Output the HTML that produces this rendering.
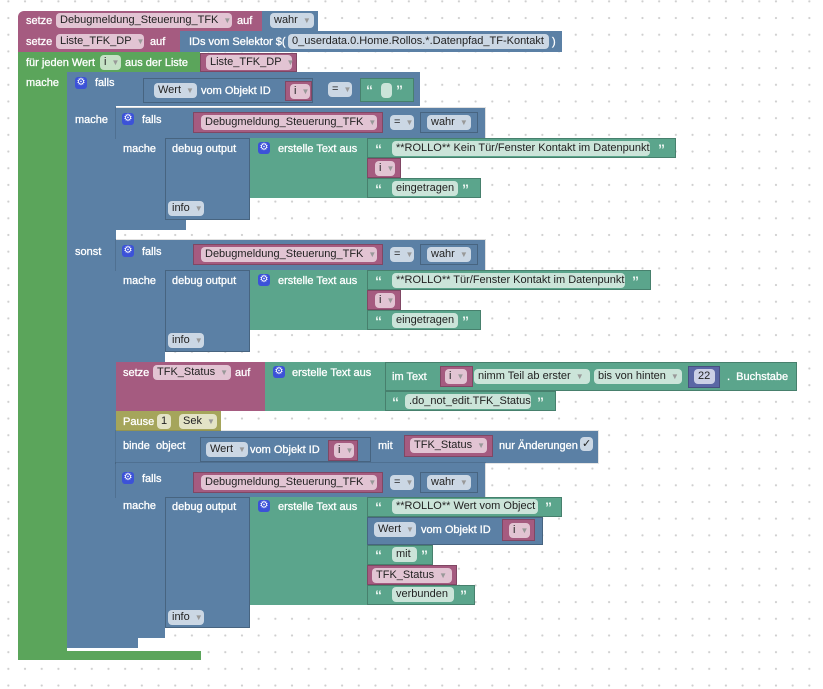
<!DOCTYPE html>
<html><head><meta charset="utf-8"><style>
body{margin:0;width:823px;height:689px;position:relative;overflow:hidden;background-color:#fff;background-image:radial-gradient(circle,#cfcfcf 0.9px,transparent 1.3px);background-size:16.7px 16.7px;background-position:0 -7px;font-family:"Liberation Sans",Arial,sans-serif}
.b{position:absolute}
.p{background:#a55b80}.u{background:#5b80a5}.g{background:#5ba55b}.t{background:#5ba58c}.o{background:#a5a55b}.m{background:#5b67a5}
.bd{box-shadow:inset 0 0 0 1px rgba(0,0,0,.22)}
.l{position:absolute;color:#fff;font-size:11px;line-height:14px;white-space:nowrap;-webkit-text-stroke:.3px #fff}
.f{position:absolute;height:15px;line-height:15px;font-size:11px;border-radius:4px;padding-left:4px;box-sizing:border-box;white-space:nowrap;color:#222}
.f i{font-style:normal;font-size:8px;color:#999;margin-left:5px}
.fp{background:#e2c4d3}.fu{background:#cbd7e4}.ft{background:#cbe4d9}.fg{background:#c5e1c5}.fo{background:#e3e3c6}.fm{background:#ccd0e6}
.gear{position:absolute;width:12px;height:12px;background:#3c52d8;border-radius:3px;color:#fff;font-size:10px;line-height:12px;text-align:center}
.q{position:absolute;color:#e8f3ee;font-size:14px;font-weight:bold;line-height:14px}
</style></head><body>

<div class="b g" style="left:18px;top:52px;width:182px;height:20px"></div>
<div class="b g" style="left:18px;top:72px;width:49px;height:588px;border-bottom-left-radius:8px"></div>
<div class="b g" style="left:18px;top:651px;width:183px;height:9px"></div>

<div class="b p" style="left:18px;top:11px;width:244px;height:20px;border-top-left-radius:6px"></div>
<div class="b u" style="left:262px;top:11px;width:56px;height:20px"></div>
<div class="l" style="left:26px;top:14px">setze</div>
<div class="f fp" style="left:56px;top:13px;width:176px">Debugmeldung_Steuerung_TFK<i>▼</i></div>
<div class="l" style="left:237px;top:14px">auf</div>
<div class="f fu" style="left:270px;top:13px;width:44px">wahr<i>▼</i></div>

<div class="b p" style="left:18px;top:31px;width:162px;height:21px"></div>
<div class="b u" style="left:180px;top:31px;width:382px;height:21px"></div>
<div class="l" style="left:26px;top:35px">setze</div>
<div class="f fp" style="left:56px;top:34px;width:88px">Liste_TFK_DP<i>▼</i></div>
<div class="l" style="left:150px;top:35px">auf</div>
<div class="l" style="left:189px;top:35px">IDs vom Selektor $(</div>
<div class="f fu" style="left:288px;top:34px;width:261px">0_userdata.0.Home.Rollos.*.Datenpfad_TF-Kontakt</div>
<div class="l" style="left:552px;top:35px">)</div>

<div class="l" style="left:26px;top:56px">für jeden Wert</div>
<div class="f fg" style="left:100px;top:55px;width:21px">i<i>▼</i></div>
<div class="l" style="left:125px;top:56px">aus der Liste</div>
<div class="b p bd" style="left:200px;top:53px;width:97px;height:19px"></div>
<div class="f fp" style="left:206px;top:55px;width:86px">Liste_TFK_DP<i>▼</i></div>
<div class="l" style="left:26px;top:76px">mache</div>

<div class="b u" style="left:67px;top:72px;width:353px;height:34px"></div>
<div class="b u" style="left:67px;top:106px;width:49px;height:542px"></div>
<div class="b u" style="left:67px;top:638px;width:71px;height:10px"></div>
<div class="gear" style="left:75px;top:77px">⚙</div>
<div class="l" style="left:95px;top:76px">falls</div>
<div class="b u bd" style="left:143px;top:78px;width:170px;height:25px"></div>
<div class="f fu" style="left:154px;top:83px;width:43px">Wert<i>▼</i></div>
<div class="l" style="left:201px;top:84px">vom Objekt ID</div>
<div class="b p bd" style="left:285px;top:81px;width:27px;height:20px"></div>
<div class="f fp" style="left:290px;top:84px;width:20px">i<i>▼</i></div>
<div class="f fu" style="left:328px;top:82px;width:24px">=<i>▼</i></div>
<div class="b t bd" style="left:360px;top:78px;width:54px;height:24px"></div>
<div class="q" style="left:366px;top:83px">“</div>
<div class="f ft" style="left:381px;top:83px;width:11px"></div>
<div class="q" style="left:396px;top:83px">”</div>
<div class="l" style="left:75px;top:113px">mache</div>

<div class="b u" style="left:116px;top:108px;width:369px;height:30px;box-shadow:0 0 0 1px rgba(0,0,0,.12)"></div>
<div class="b u" style="left:116px;top:138px;width:49px;height:92px"></div>
<div class="b u" style="left:116px;top:220px;width:70px;height:10px"></div>
<div class="gear" style="left:122px;top:113px">⚙</div>
<div class="l" style="left:142px;top:113px">falls</div>
<div class="b p bd" style="left:193px;top:112px;width:190px;height:21px"></div>
<div class="f fp" style="left:201px;top:115px;width:176px">Debugmeldung_Steuerung_TFK<i>▼</i></div>
<div class="f fu" style="left:390px;top:115px;width:24px">=<i>▼</i></div>
<div class="b u bd" style="left:420px;top:112px;width:58px;height:21px"></div>
<div class="f fu" style="left:427px;top:115px;width:44px">wahr<i>▼</i></div>
<div class="l" style="left:123px;top:142px">mache</div>
<div class="b u bd" style="left:165px;top:138px;width:85px;height:82px"></div>
<div class="l" style="left:172px;top:142px">debug output</div>
<div class="f fu" style="left:168px;top:201px;width:36px">info<i>▼</i></div>
<div class="b t" style="left:250px;top:138px;width:117px;height:60px"></div>
<div class="gear" style="left:258px;top:142px">⚙</div>
<div class="l" style="left:278px;top:142px">erstelle Text aus</div>
<div class="b t bd" style="left:367px;top:138px;width:309px;height:20px"></div>
<div class="q" style="left:375px;top:142px">“</div>
<div class="f ft" style="left:392px;top:141px;width:258px">**ROLLO** Kein Tür/Fenster Kontakt im Datenpunkt</div>
<div class="q" style="left:658px;top:142px">”</div>
<div class="b p bd" style="left:367px;top:158px;width:34px;height:20px"></div>
<div class="f fp" style="left:375px;top:161px;width:20px">i<i>▼</i></div>
<div class="b t bd" style="left:367px;top:178px;width:114px;height:20px"></div>
<div class="q" style="left:375px;top:182px">“</div>
<div class="f ft" style="left:392px;top:181px;width:66px">eingetragen</div>
<div class="q" style="left:462px;top:182px">”</div>

<div class="l" style="left:75px;top:245px">sonst</div>

<div class="b u" style="left:116px;top:240px;width:369px;height:30px;box-shadow:0 0 0 1px rgba(0,0,0,.12)"></div>
<div class="b u" style="left:116px;top:270px;width:49px;height:92px"></div>
<div class="gear" style="left:122px;top:245px">⚙</div>
<div class="l" style="left:142px;top:245px">falls</div>
<div class="b p bd" style="left:193px;top:244px;width:190px;height:21px"></div>
<div class="f fp" style="left:201px;top:247px;width:176px">Debugmeldung_Steuerung_TFK<i>▼</i></div>
<div class="f fu" style="left:390px;top:247px;width:24px">=<i>▼</i></div>
<div class="b u bd" style="left:420px;top:244px;width:58px;height:21px"></div>
<div class="f fu" style="left:427px;top:247px;width:44px">wahr<i>▼</i></div>
<div class="l" style="left:123px;top:274px">mache</div>
<div class="b u bd" style="left:165px;top:270px;width:85px;height:82px"></div>
<div class="l" style="left:172px;top:274px">debug output</div>
<div class="f fu" style="left:168px;top:333px;width:36px">info<i>▼</i></div>
<div class="b t" style="left:250px;top:270px;width:117px;height:60px"></div>
<div class="gear" style="left:258px;top:274px">⚙</div>
<div class="l" style="left:278px;top:274px">erstelle Text aus</div>
<div class="b t bd" style="left:367px;top:270px;width:284px;height:20px"></div>
<div class="q" style="left:375px;top:274px">“</div>
<div class="f ft" style="left:392px;top:273px;width:233px">**ROLLO** Tür/Fenster Kontakt im Datenpunkt</div>
<div class="q" style="left:632px;top:274px">”</div>
<div class="b p bd" style="left:367px;top:290px;width:34px;height:20px"></div>
<div class="f fp" style="left:375px;top:293px;width:20px">i<i>▼</i></div>
<div class="b t bd" style="left:367px;top:310px;width:114px;height:20px"></div>
<div class="q" style="left:375px;top:314px">“</div>
<div class="f ft" style="left:392px;top:313px;width:66px">eingetragen</div>
<div class="q" style="left:462px;top:314px">”</div>

<div class="b p" style="left:116px;top:362px;width:149px;height:49px"></div>
<div class="l" style="left:123px;top:366px">setze</div>
<div class="f fp" style="left:153px;top:365px;width:78px">TFK_Status<i>▼</i></div>
<div class="l" style="left:235px;top:366px">auf</div>
<div class="b t" style="left:265px;top:362px;width:120px;height:49px"></div>
<div class="gear" style="left:273px;top:366px">⚙</div>
<div class="l" style="left:292px;top:366px">erstelle Text aus</div>
<div class="b t bd" style="left:385px;top:362px;width:412px;height:29px"></div>
<div class="l" style="left:392px;top:370px">im Text</div>
<div class="b p bd" style="left:440px;top:366px;width:33px;height:21px"></div>
<div class="f fp" style="left:445px;top:369px;width:22px">i<i>▼</i></div>
<div class="f ft" style="left:474px;top:369px;width:116px">nimm Teil ab erster<i>▼</i></div>
<div class="f ft" style="left:594px;top:369px;width:88px">bis von hinten<i>▼</i></div>
<div class="b m bd" style="left:688px;top:366px;width:32px;height:22px"></div>
<div class="f fm" style="left:694px;top:369px;width:21px">22</div>
<div class="l" style="left:727px;top:370px">.&nbsp;&nbsp;Buchstabe</div>
<div class="b t bd" style="left:385px;top:391px;width:171px;height:20px"></div>
<div class="q" style="left:392px;top:395px">“</div>
<div class="f ft" style="left:405px;top:394px;width:126px">.do_not_edit.TFK_Status</div>
<div class="q" style="left:537px;top:395px">”</div>

<div class="b o" style="left:116px;top:411px;width:105px;height:20px"></div>
<div class="l" style="left:123px;top:415px">Pause</div>
<div class="f fo" style="left:157px;top:414px;width:14px">1</div>
<div class="f fo" style="left:179px;top:414px;width:38px">Sek<i>▼</i></div>

<div class="b u" style="left:116px;top:431px;width:482px;height:32px;box-shadow:0 0 0 1px rgba(0,0,0,.1)"></div>
<div class="l" style="left:123px;top:439px">binde&nbsp;&nbsp;object</div>
<div class="b u bd" style="left:200px;top:437px;width:171px;height:25px"></div>
<div class="f fu" style="left:206px;top:442px;width:42px">Wert<i>▼</i></div>
<div class="l" style="left:250px;top:443px">vom Objekt ID</div>
<div class="b p bd" style="left:328px;top:440px;width:30px;height:21px"></div>
<div class="f fp" style="left:334px;top:443px;width:20px">i<i>▼</i></div>
<div class="l" style="left:378px;top:439px">mit</div>
<div class="b p bd" style="left:404px;top:435px;width:89px;height:22px"></div>
<div class="f fp" style="left:410px;top:438px;width:77px">TFK_Status<i>▼</i></div>
<div class="l" style="left:499px;top:439px">nur Änderungen</div>
<div class="f fu" style="left:580px;top:437px;width:13px;height:14px;font-size:11px;line-height:14px;padding-left:2px">✓</div>

<div class="b u" style="left:116px;top:463px;width:369px;height:34px;box-shadow:0 0 0 1px rgba(0,0,0,.12)"></div>
<div class="b u" style="left:116px;top:497px;width:49px;height:141px"></div>
<div class="b u" style="left:116px;top:628px;width:47px;height:10px"></div>
<div class="gear" style="left:122px;top:472px">⚙</div>
<div class="l" style="left:142px;top:472px">falls</div>
<div class="b p bd" style="left:193px;top:472px;width:190px;height:21px"></div>
<div class="f fp" style="left:201px;top:475px;width:176px">Debugmeldung_Steuerung_TFK<i>▼</i></div>
<div class="f fu" style="left:390px;top:475px;width:24px">=<i>▼</i></div>
<div class="b u bd" style="left:420px;top:472px;width:58px;height:21px"></div>
<div class="f fu" style="left:427px;top:475px;width:44px">wahr<i>▼</i></div>
<div class="l" style="left:123px;top:499px">mache</div>
<div class="b u bd" style="left:165px;top:497px;width:85px;height:131px"></div>
<div class="l" style="left:172px;top:500px">debug output</div>
<div class="f fu" style="left:168px;top:610px;width:36px">info<i>▼</i></div>
<div class="b t" style="left:250px;top:497px;width:117px;height:108px"></div>
<div class="gear" style="left:258px;top:500px">⚙</div>
<div class="l" style="left:278px;top:500px">erstelle Text aus</div>
<div class="b t bd" style="left:367px;top:497px;width:195px;height:20px"></div>
<div class="q" style="left:375px;top:500px">“</div>
<div class="f ft" style="left:392px;top:499px;width:146px">**ROLLO** Wert vom Object</div>
<div class="q" style="left:545px;top:500px">”</div>
<div class="b u bd" style="left:367px;top:517px;width:176px;height:28px"></div>
<div class="f fu" style="left:374px;top:522px;width:42px">Wert<i>▼</i></div>
<div class="l" style="left:421px;top:523px">vom Objekt ID</div>
<div class="b p bd" style="left:502px;top:519px;width:33px;height:22px"></div>
<div class="f fp" style="left:509px;top:523px;width:21px">i<i>▼</i></div>
<div class="b t bd" style="left:367px;top:545px;width:66px;height:20px"></div>
<div class="q" style="left:375px;top:548px">“</div>
<div class="f ft" style="left:392px;top:547px;width:25px">mit</div>
<div class="q" style="left:421px;top:548px">”</div>
<div class="b p bd" style="left:367px;top:565px;width:90px;height:20px"></div>
<div class="f fp" style="left:372px;top:568px;width:80px">TFK_Status<i>▼</i></div>
<div class="b t bd" style="left:367px;top:585px;width:108px;height:20px"></div>
<div class="q" style="left:375px;top:588px">“</div>
<div class="f ft" style="left:392px;top:587px;width:62px">verbunden</div>
<div class="q" style="left:460px;top:588px">”</div>

</body></html>
